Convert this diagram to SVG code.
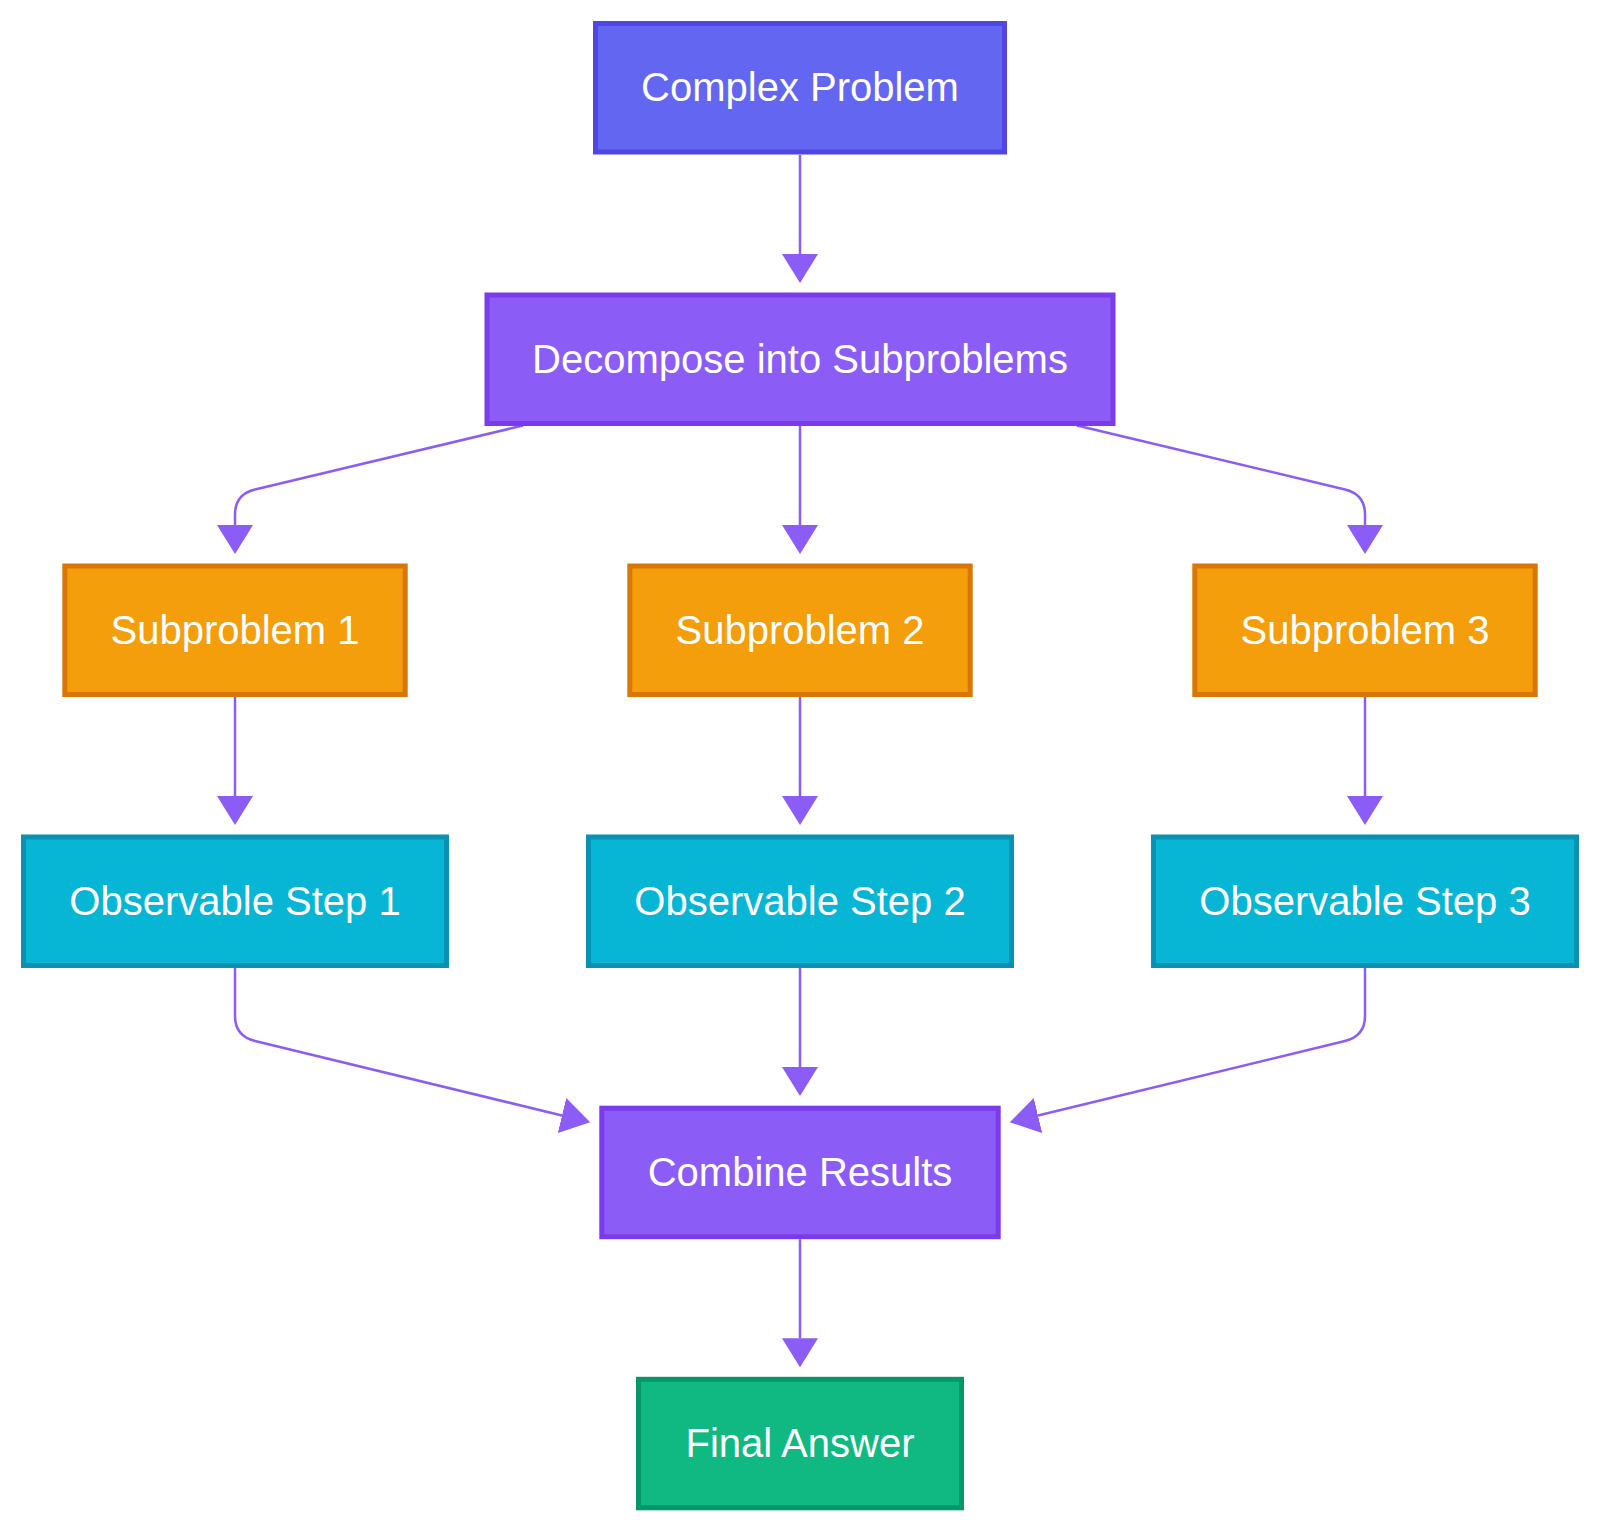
<svg xmlns="http://www.w3.org/2000/svg" width="1600" height="1532" viewBox="0 0 1600 1532">
  <style>
    .node rect { stroke-width: 5; }
    .node text { font-family: "Liberation Sans", Arial, sans-serif; font-size: 40px; fill: #ffffff; text-anchor: middle; }
    .start rect { fill: #6366f1; stroke: #4f46e5; }
    .process rect { fill: #8b5cf6; stroke: #7c3aed; }
    .sub rect { fill: #f59e0b; stroke: #d97706; }
    .obs rect { fill: #06b6d4; stroke: #0891b2; }
    .final rect { fill: #10b981; stroke: #059669; }
    .edge { fill: none; stroke: #8b5cf6; stroke-width: 2.5; marker-end: url(#arrow); }
  </style>
  <defs>
    <marker id="arrow" viewBox="0 0 29 36" refX="0" refY="18" markerWidth="29" markerHeight="36" markerUnits="userSpaceOnUse" orient="auto">
      <path d="M0,0 L29,18 L0,36 Z" fill="#8b5cf6"/>
    </marker>
  </defs>
  <rect x="0" y="0" width="1600" height="1532" fill="#ffffff"/>

  <g id="connectors">
    <path class="edge" d="M800 155 L800 254"/>
    <path class="edge" d="M523 425.5 L255 489.5 Q235 494.3 235 514.5 L235 525"/>
    <path class="edge" d="M800 425.5 L800 525"/>
    <path class="edge" d="M1077 425.5 L1345 489.5 Q1365 494.3 1365 514.5 L1365 525"/>
    <path class="edge" d="M235 697 L235 796"/>
    <path class="edge" d="M800 697 L800 796"/>
    <path class="edge" d="M1365 697 L1365 796"/>
    <path class="edge" d="M235 968 L235 1016 Q235 1036 255 1041 L562 1115.5"/>
    <path class="edge" d="M800 968 L800 1067"/>
    <path class="edge" d="M1365 968 L1365 1016 Q1365 1036 1345 1041 L1038 1115.5"/>
    <path class="edge" d="M800 1239.3 L800 1338.3"/>
  </g>

  <g id="complex" class="node start">
    <rect x="595.5" y="23.5" width="409" height="128.5"/>
    <text x="800" y="101.3">Complex Problem</text>
  </g>
  <g id="decompose" class="node process">
    <rect x="487" y="295" width="626" height="128.5"/>
    <text x="800" y="372.8">Decompose into Subproblems</text>
  </g>
  <g id="sub1" class="node sub">
    <rect x="64.8" y="566" width="340.4" height="128.5"/>
    <text x="235" y="643.8">Subproblem 1</text>
  </g>
  <g id="sub2" class="node sub">
    <rect x="629.8" y="566" width="340.4" height="128.5"/>
    <text x="800" y="643.8">Subproblem 2</text>
  </g>
  <g id="sub3" class="node sub">
    <rect x="1194.8" y="566" width="340.4" height="128.5"/>
    <text x="1365" y="643.8">Subproblem 3</text>
  </g>
  <g id="obs1" class="node obs">
    <rect x="23.5" y="837" width="423" height="128.5"/>
    <text x="235" y="914.8">Observable Step 1</text>
  </g>
  <g id="obs2" class="node obs">
    <rect x="588.5" y="837" width="423" height="128.5"/>
    <text x="800" y="914.8">Observable Step 2</text>
  </g>
  <g id="obs3" class="node obs">
    <rect x="1153.5" y="837" width="423" height="128.5"/>
    <text x="1365" y="914.8">Observable Step 3</text>
  </g>
  <g id="combine" class="node process">
    <rect x="601.8" y="1108.2" width="396.4" height="128.5"/>
    <text x="800" y="1186">Combine Results</text>
  </g>
  <g id="final" class="node final">
    <rect x="638.5" y="1379.3" width="323" height="128.5"/>
    <text x="800" y="1457">Final Answer</text>
  </g>
</svg>
